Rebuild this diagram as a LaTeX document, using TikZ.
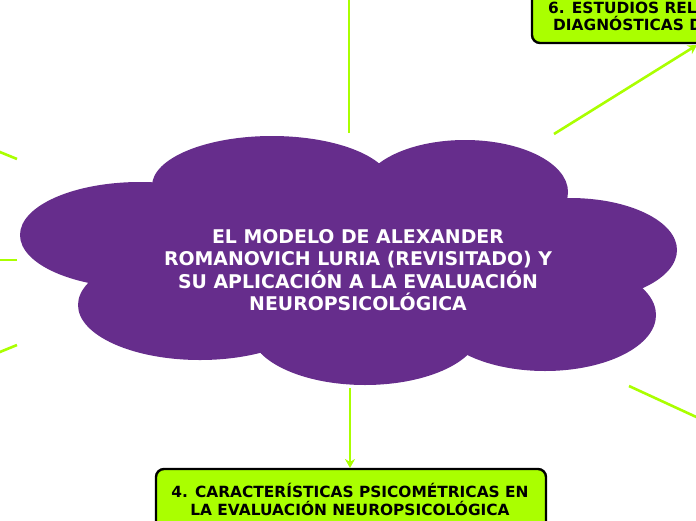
\documentclass[tikz,border=0pt]{standalone}
\usepackage{fontspec}
\setmainfont{DejaVu Sans}
\usetikzlibrary{arrows.meta}
\definecolor{cloudpurple}{RGB}{102,45,140}
\definecolor{limegreen}{RGB}{170,255,0}
\tikzset{
  conn/.style={draw=limegreen, line width=2.6pt},
  connarrow/.style={conn, -{Stealth[length=9pt,width=10pt]}},
  lump/.style={fill=cloudpurple, draw=none},
  topicbox/.style={fill=limegreen, draw=black, line width=2.4pt, rounded corners=8pt},
  topictext/.style={font=\bfseries\fontsize{15.4}{18}\selectfont, text=black, inner sep=0pt},
  cloudtext/.style={font=\bfseries\fontsize{18.9}{22.5}\selectfont, text=white, align=center, inner sep=0pt}
}
\begin{document}
\begin{tikzpicture}[x=1pt,y=-1pt]
\useasboundingbox (0,0) rectangle (696,520);
\clip (0,0) rectangle (696,520);
% connectors
\coordinate (topend) at (349,-5);
\coordinate (topstart) at (349,133);
\draw[conn] (topstart) -- (topend);
\coordinate (l1a) at (17,159); \coordinate (l1b) at (-5,150);
\coordinate (l2a) at (17,260); \coordinate (l2b) at (-5,260);
\coordinate (l3a) at (17,345); \coordinate (l3b) at (-5,354);
\draw[conn] (l1a) -- (l1b);
\draw[conn] (l2a) -- (l2b);
\draw[conn] (l3a) -- (l3b);
\coordinate (brA) at (629,386); \coordinate (brB) at (705,421);
\draw[conn] (brA) -- (brB);
% boxes
\draw[topicbox] (532,-20) rectangle (900,43);
\node[topictext, anchor=base west] (t6a) at (548,13) {6. ESTUDIOS RELACIONADOS};
\node[topictext, anchor=base west] (t6b) at (553,30) {DIAGNÓSTICAS DE};
\coordinate (box6in) at (697,45);
\coordinate (s6) at (554,134);
\draw[connarrow] (s6) -- (box6in);
\draw[topicbox] (156,469) rectangle (546,560);
\node[topictext, align=center, anchor=north] (t4) at (350,483) {4. CARACTERÍSTICAS PSICOMÉTRICAS EN\\LA EVALUACIÓN NEUROPSICOLÓGICA};
\coordinate (s4) at (350,388);
\coordinate (e4) at (350,468);
\draw[connarrow] (s4) -- (e4);
% cloud
\fill[lump] (272,186) ellipse [x radius=120, y radius=50];
\fill[lump] (465,192) ellipse [x radius=103, y radius=52];
\fill[lump] (570,250) ellipse [x radius=107, y radius=52];
\fill[lump] (545,315) ellipse [x radius=111, y radius=56];
\fill[lump] (365,330) ellipse [x radius=115, y radius=55];
\fill[lump] (200,305) ellipse [x radius=122, y radius=55];
\fill[lump] (140,235) ellipse [x radius=120, y radius=53];
\fill[lump] (200,200) rectangle (560,320);
\node[cloudtext] (center) at (358,270) {EL MODELO DE ALEXANDER\\ROMANOVICH LURIA (REVISITADO) Y\\SU APLICACIÓN A LA EVALUACIÓN\\NEUROPSICOLÓGICA};
\end{tikzpicture}
\end{document}
